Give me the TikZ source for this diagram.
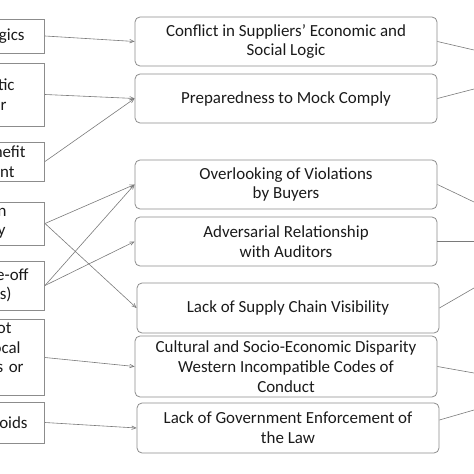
\documentclass[tikz,border=0pt]{standalone}
\usepackage{fontspec}
\setmainfont{Carlito}
\usetikzlibrary{arrows}
\definecolor{boxline}{HTML}{8C8C8C}
\definecolor{arrowline}{HTML}{7A7A7A}
\definecolor{inktext}{HTML}{1A1A1A}
\newcommand{\pad}[1]{\rule{#1bp}{0pt}}

\begin{document}
\begin{tikzpicture}[x=1bp,y=-1bp,
  cause/.style={draw=boxline,line width=0.8pt,anchor=east,text width=140bp,inner xsep=0pt,align=right,text=inktext,font=\fontsize{17}{19.5}\selectfont},
  effect/.style={draw=boxline,line width=0.8pt,rounded corners=5bp,minimum width=302bp,minimum height=49bp,align=center,text=inktext,font=\fontsize{17}{20}\selectfont},
  link/.style={draw=arrowline,line width=0.6pt,-angle 45},
  outlink/.style={draw=arrowline,line width=0.6pt}]
\useasboundingbox (0,0) rectangle (474,474);
\clip (0,0) rectangle (474,474);
\node[cause,minimum height=34bp] (logics) at (45,36) {gics\pad{20}};
\node[cause,minimum height=63bp] (domestic) at (45,94.5) {tic\pad{30}\\r\pad{38}};
\node[cause,minimum height=39bp] (benefit) at (45,161.5) {nefit\pad{19}\\ent\pad{30}};
\node[cause,minimum height=43bp] (pressure) at (45,223.5) {n\pad{38}\\y\pad{39}};
\node[cause,minimum height=49bp] (tradeoff) at (45,285.5) {e-off\pad{16}\\s)\pad{33}};
\node[cause,minimum height=71bp] (local) at (45,357.5) {ot\pad{33}\\ocal\pad{24}\\es or\pad{21}\\\pad{0}};
\node[cause,minimum height=41bp] (voids) at (45,422.5) {Voids\pad{17}};
\node[effect] (conflict) at (286,41.5) {Conflict in Suppliers’ Economic and\\Social Logic};
\node[effect] (mock) at (286,98.5) {Preparedness to Mock Comply};
\node[effect] (overlook) at (286,184.5) {Overlooking of Violations\\by Buyers};
\node[effect] (auditors) at (286,241.5) {Adversarial Relationship\\with Auditors};
\node[effect,minimum height=50bp] (visibility) at (288,308) {Lack of Supply Chain Visibility};
\node[effect,minimum height=61bp] (disparity) at (286,366.5) {Cultural and Socio-Economic Disparity\\Western Incompatible Codes of\\Conduct};
\node[effect,minimum height=50bp] (enforce) at (288,428) {Lack of Government Enforcement of\\the Law};
\coordinate (out1) at (474,50);
\coordinate (out2) at (474,89);
\coordinate (out3) at (474,202);
\coordinate (out4) at (474,241.5);
\coordinate (out5) at (474,288);
\coordinate (out6) at (474,373);
\coordinate (out7) at (474,410);
\draw[link] (logics.east) -- (conflict.west);
\draw[link] (domestic.east) -- (mock.west);
\draw[link] (benefit.east) -- (mock.west);
\draw[link] (pressure.east) -- (overlook.west);
\draw[link] (pressure.east) -- (visibility.west);
\draw[link] (tradeoff.east) -- (overlook.west);
\draw[link] (tradeoff.east) -- (auditors.west);
\draw[link] (local.east) -- (disparity.west);
\draw[link] (voids.east) -- (enforce.west);
\draw[outlink] (conflict.east) -- (out1);
\draw[outlink] (mock.east) -- (out2);
\draw[outlink] (overlook.east) -- (out3);
\draw[outlink] (auditors.east) -- (out4);
\draw[outlink] (visibility.east) -- (out5);
\draw[outlink] (disparity.east) -- (out6);
\draw[outlink] ([yshift=8bp]enforce.east) -- (out7);
\end{tikzpicture}
\end{document}
